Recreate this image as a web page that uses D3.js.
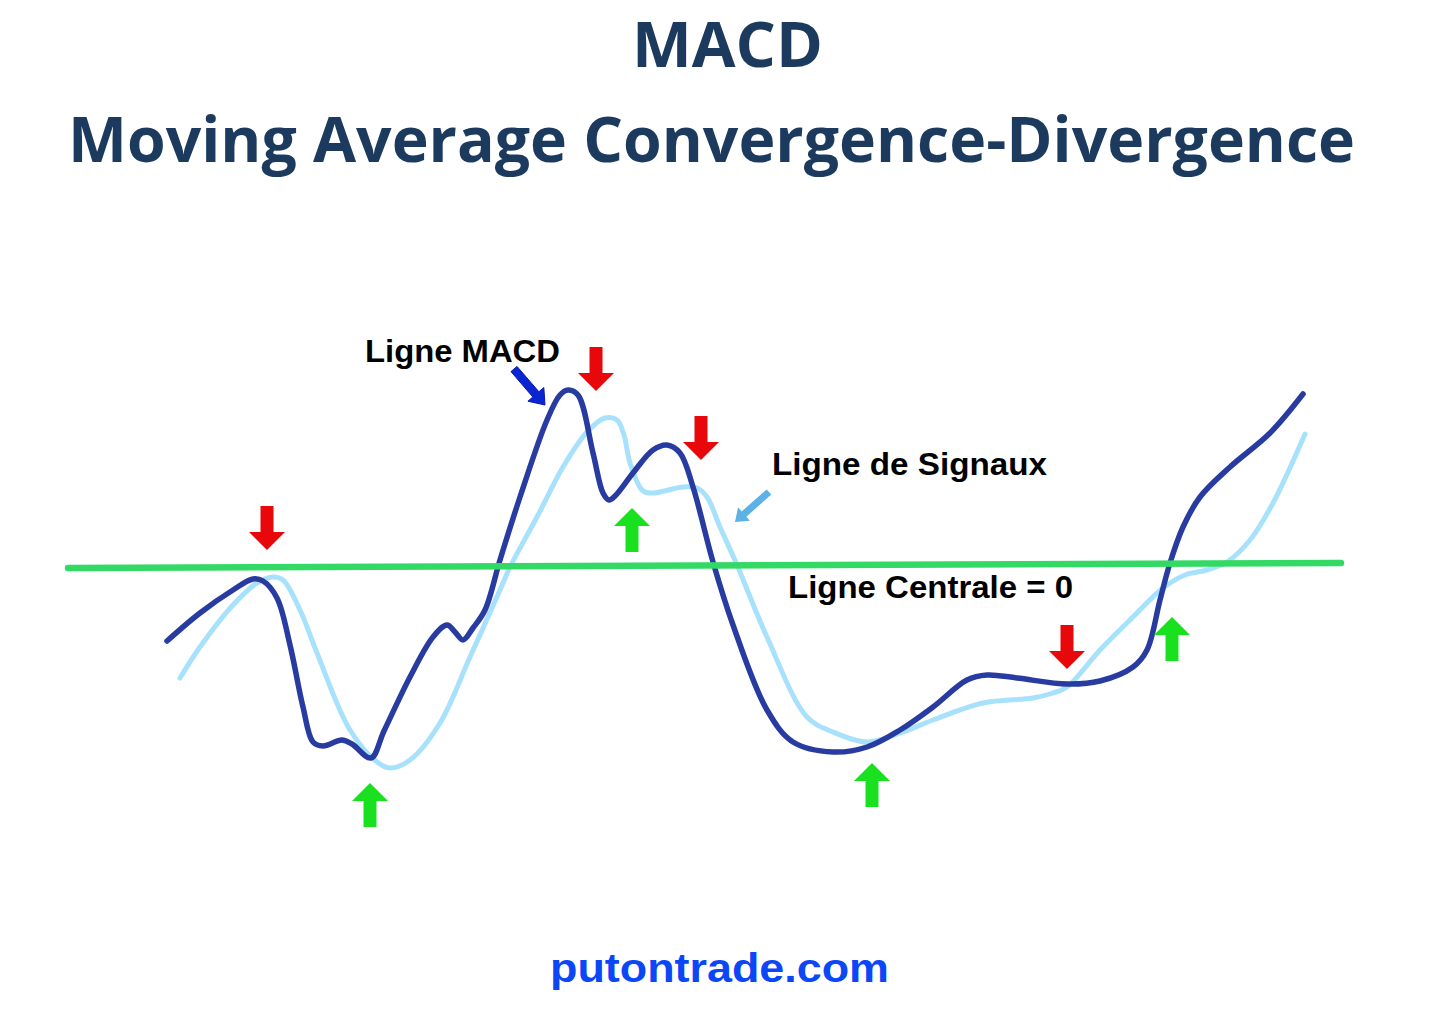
<!DOCTYPE html>
<html>
<head>
<meta charset="utf-8">
<script src="https://cdn.jsdelivr.net/npm/d3@7"></script>
<style>
  html, body { margin: 0; padding: 0; background: #ffffff; }
  svg { display: block; }
</style>
</head>
<body>
<div id="chart"></div>
<script>
// ---------- DATA ----------
const titleLines = ["MACD", "Moving Average Convergence-Divergence"];
const labelMacd = "Ligne MACD";
const labelSignal = "Ligne de Signaux";
const labelCenter = "Ligne Centrale = 0";
const footer = "putontrade.com";

// MACD line (period, value)
const macdLine = [
  [0.2,-7.5],[3.5,-4.7],[6.8,-2.4],[8.8,-1.3],[9.8,-1.5],[11.2,-3.2],[12.5,-7.9],
  [13.8,-14.1],[14.8,-17.6],[15.8,-18.0],[17.7,-17.4],[18.7,-17.8],[20.6,-19.2],
  [21.9,-16.5],[24.5,-11.1],[26.8,-7.1],[28.2,-5.9],[29.0,-6.6],[29.8,-7.4],
  [30.8,-6.2],[32.0,-4.4],[33.5,0.6],[35.5,6.9],[38.2,14.6],[39.5,17.1],[40.3,17.6],
  [41.3,17.1],[42.8,11.3],[43.8,7.3],[44.4,6.6],[45.0,7.0],[46.8,9.3],[48.8,11.6],
  [50.2,12.1],[51.5,11.3],[52.8,7.9],[54.8,0.4],[56.8,-5.9],[60.2,-14.4],[62.8,-17.6],
  [66.8,-18.6],[70.2,-18.1],[73.5,-16.4],[76.8,-14.1],[80.2,-11.4],[82.2,-10.9],
  [85.2,-11.2],[90.2,-11.8],[93.5,-11.5],[96.8,-10.1],[98.2,-8.4],[99.5,-3.4],
  [100.5,0.3],[101.8,3.9],[103.5,6.9],[106.5,9.9],[110.5,13.3],[113.8,17.2]
];

// Signal line (period, value)
const signalLine = [
  [1.5,-11.2],[3.5,-8.1],[6.8,-3.9],[9.2,-1.7],[10.8,-1.1],[11.8,-1.4],[13.5,-4.4],
  [15.2,-8.7],[18.5,-16.4],[21.2,-19.6],[22.5,-20.2],[24.5,-19.4],[27.5,-15.7],
  [30.5,-9.1],[33.5,-2.4],[34.5,-0.1],[37.2,4.9],[39.8,9.9],[42.2,13.4],[44.0,14.8],
  [45.2,14.6],[45.9,13.1],[46.5,10.3],[47.8,7.5],[48.8,7.3],[51.8,7.9],[53.2,7.8],
  [54.2,6.9],[55.5,3.9],[57.2,0.1],[60.2,-7.1],[64.2,-15.1],[66.8,-16.6],[70.2,-17.6],
  [73.5,-16.7],[76.8,-15.4],[81.8,-13.7],[86.8,-13.2],[88.8,-12.7],[90.2,-12.1],
  [93.5,-8.4],[96.8,-5.1],[99.8,-2.2],[102.0,-0.9],[104.2,-0.4],[106.2,0.4],
  [108.5,2.6],[110.8,6.3],[114.0,13.2]
];

// Center (zero) line as drawn
const centerLine = [[-9.7,-0.2],[117.6,0.3]];

// Sell (red, down) and buy (green, up) signal arrow tips
const sellSignals = [[10.2,1.6],[43.1,17.5],[53.6,10.6],[90.2,-10.3]];
const buySignals  = [[20.5,-21.7],[46.7,5.8],[70.7,-19.7],[100.7,-5.1]];

// ---------- CHART ----------
const W = 1440, H = 1018;
const svg = d3.select("#chart").append("svg").attr("width", W).attr("height", H);

const x = d3.scaleLinear().domain([0, 114]).range([165, 1305]);
const y = d3.scaleLinear().domain([-25, 25]).range([816, 316]);

// Titles
svg.append("text").text(titleLines[0])
  .attr("x", 632).attr("y", 67)
  .attr("textLength", 191).attr("lengthAdjust", "spacingAndGlyphs")
  .style("font-family", "'Open Sans', sans-serif").style("font-weight", 700)
  .style("font-size", "62px").style("fill", "#1b3a5e");
svg.append("text").text(titleLines[1])
  .attr("x", 68).attr("y", 162)
  .attr("textLength", 1287).attr("lengthAdjust", "spacingAndGlyphs")
  .style("font-family", "'Open Sans', sans-serif").style("font-weight", 700)
  .style("font-size", "62px").style("fill", "#1b3a5e");

const line = d3.line().x(d => x(d[0])).y(d => y(d[1])).curve(d3.curveCatmullRom.alpha(0.5));

svg.append("path").datum(signalLine).attr("d", line)
  .attr("fill", "none").attr("stroke", "#a8e1fb").attr("stroke-width", 5)
  .attr("stroke-linecap", "round").attr("stroke-linejoin", "round");
svg.append("path").datum(macdLine).attr("d", line)
  .attr("fill", "none").attr("stroke", "#283ba0").attr("stroke-width", 5.5)
  .attr("stroke-linecap", "round").attr("stroke-linejoin", "round");

svg.append("path").datum(centerLine).attr("d", d3.line().x(d => x(d[0])).y(d => y(d[1])))
  .attr("fill", "none").attr("stroke", "#33d965").attr("stroke-width", 6.5)
  .attr("stroke-linecap", "round");

// Signal arrows
function vArrow(tx, ty, dir) { // dir: +1 down, -1 up
  const L = 44, hh = 18, sw = 6.5, hw = 18;
  const b = ty - dir * L, n = ty - dir * hh;
  return `M${tx - sw},${b}L${tx + sw},${b}L${tx + sw},${n}L${tx + hw},${n}L${tx},${ty}L${tx - hw},${n}L${tx - sw},${n}Z`;
}
svg.selectAll(".sell").data(sellSignals).join("path").attr("class", "sell")
  .attr("d", d => vArrow(x(d[0]), y(d[1]), 1)).attr("fill", "#e8070b");
svg.selectAll(".buy").data(buySignals).join("path").attr("class", "buy")
  .attr("d", d => vArrow(x(d[0]), y(d[1]), -1)).attr("fill", "#1ae11f");

// Pointer arrows for labels
function pointer(x1, y1, x2, y2, sw, hw, hl) {
  const dx = x2 - x1, dy = y2 - y1, len = Math.hypot(dx, dy);
  const ux = dx / len, uy = dy / len, px = -uy, py = ux;
  const bx = x2 - ux * hl, by = y2 - uy * hl;
  const pts = [
    [x1 + px * sw / 2, y1 + py * sw / 2],
    [bx + px * sw / 2, by + py * sw / 2],
    [bx + px * hw / 2, by + py * hw / 2],
    [x2, y2],
    [bx - px * hw / 2, by - py * hw / 2],
    [bx - px * sw / 2, by - py * sw / 2],
    [x1 - px * sw / 2, y1 - py * sw / 2]
  ];
  return "M" + pts.map(p => p.join(",")).join("L") + "Z";
}
svg.append("path").attr("d", pointer(514, 369, 545, 405, 8, 21, 14))
  .attr("fill", "#0a25d2").attr("stroke", "#0a1aa8").attr("stroke-width", 1);
svg.append("path").attr("d", pointer(769, 492, 735, 522, 7, 18, 12))
  .attr("fill", "#5cb2e4");

// Labels
function label(t, x0, y0, w, size, color) {
  svg.append("text").text(t).attr("x", x0).attr("y", y0)
    .attr("textLength", w).attr("lengthAdjust", "spacingAndGlyphs")
    .style("font-family", "'Liberation Sans', Arial, sans-serif").style("font-weight", 700)
    .style("font-size", size + "px").style("fill", color);
}
label(labelMacd, 365, 362, 195, 31, "#000000");
label(labelSignal, 772, 475, 275, 31, "#000000");
label(labelCenter, 788, 598, 285, 31, "#000000");
label(footer, 550, 982, 339, 41, "#0b46f7");
</script>
</body>
</html>
